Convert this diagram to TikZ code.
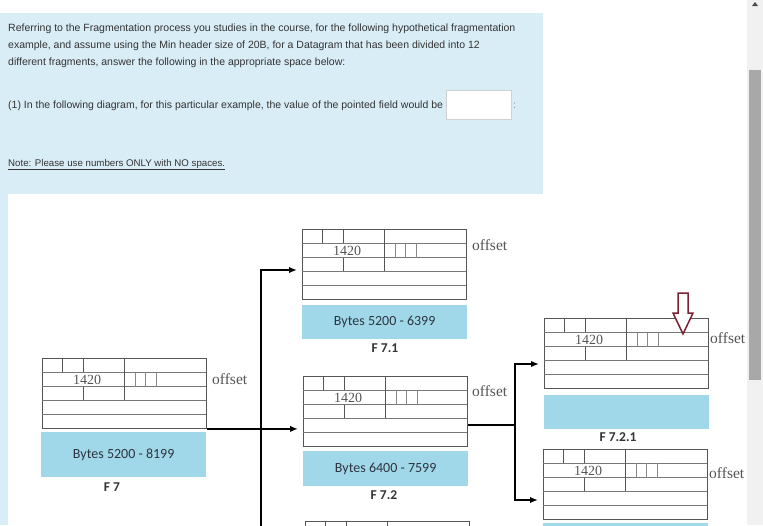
\documentclass[tikz,border=0pt]{standalone}
\usepackage{fontspec}
\newfontfamily\arialf{Liberation Sans}
\newfontfamily\timesf{Liberation Serif}
\newfontfamily\calf{Carlito}
\usetikzlibrary{arrows.meta,calc}
\definecolor{panel}{HTML}{D9EDF7}
\definecolor{payload}{HTML}{A0D8E9}
\definecolor{gridc}{HTML}{555555}
\definecolor{txt}{HTML}{333333}
\definecolor{navy}{HTML}{2E3440}
\definecolor{redarrow}{HTML}{7B2131}
\definecolor{track}{HTML}{F1F1F1}
\definecolor{thumb}{HTML}{A8A8A8}
\tikzset{
 hdr/.style={draw=gridc, line width=0.9pt, minimum width=164pt, minimum height=70pt, inner sep=0pt, anchor=north west},
 rowline/.style={draw=gridc!80, line width=0.8pt},
 colline/.style={draw=gridc, line width=0.8pt},
 tickline/.style={draw=gridc!70, line width=0.8pt},
 pay/.style={fill=payload, inner sep=0pt, anchor=north west, minimum width=165pt, font=\calf\fontsize{14}{16}\selectfont, text=navy},
 flabel/.style={font=\calf\bfseries\fontsize{13.5}{15}\selectfont, text=txt, inner sep=0pt},
 offs/.style={font=\timesf\fontsize{15.5}{17}\selectfont, text=gridc, anchor=west, inner sep=0pt},
 num/.style={font=\timesf\fontsize{14}{16}\selectfont, text=gridc, inner sep=0pt},
 conn/.style={draw=black, line width=1.6pt},
 tipend/.style={-{Latex[length=8pt,width=6.5pt]}, shorten >=5pt},
 tipboth/.style={{Latex[length=8pt,width=6.5pt]}-{Latex[length=8pt,width=6.5pt]}, shorten >=5pt, shorten <=5pt},
 qtext/.style={font=\arialf\fontsize{10.5}{12}\selectfont, text=txt, anchor=base west, inner sep=0pt},
}
\newcommand\fraghdr[4]{%
 \node[hdr] (#1) at (#2,#3) {};
 \begin{scope}[shift={(#2,#3)}]
  \foreach \yy in {14,28.5,42,56} \draw[rowline] (0,\yy) -- (164,\yy);
  \draw[colline] (20,0) -- (20,14) (41,0) -- (41,14) (82,0) -- (82,42) (41,28.5) -- (41,42);
  \draw[tickline] (93,14) -- (93,28.5) (103,14) -- (103,28.5) (114,14) -- (114,28.5);
  \node[num] (#1n) at (45,21.5) {#4};
 \end{scope}}
\begin{document}
\begin{tikzpicture}[x=1pt,y=-1pt]
\useasboundingbox (0,0) rectangle (763,525);
\clip (0,0) rectangle (763,525);
\fill[white] (0,0) rectangle (763,525);
% question panel
\fill[panel] (0,13) rectangle (543,194);
\fill[panel] (0,194) rectangle (8,525);
\node[qtext] (q1) at (8,31) {Referring to the Fragmentation process you studies in the course, for the following hypothetical fragmentation};
\node[qtext] (q2) at (8,48) {example, and assume using the Min header size of 20B, for a Datagram that has been divided into 12};
\node[qtext] (q3) at (8,65) {different fragments, answer the following in the appropriate space below:};
\node[qtext] (q4) at (8,108) {(1) In the following diagram, for this particular example, the value of the pointed field would be};
\node[draw=black!18, fill=white, line width=0.8pt, minimum width=65pt, minimum height=29pt, inner sep=0pt, anchor=north west] (ans) at (446,90) {};
\node[qtext, text=black!45] (colon) at (513,108) {:};
\node[qtext, font=\arialf\fontsize{9.7}{12}\selectfont] (note) at (8,166) {\underline{Note: Please use numbers ONLY with NO spaces.}};
% scrollbar
\fill[track] (747,0) rectangle (763,525);
\fill[thumb] (749,70) rectangle (761,380);
\fill[black!70] (752,6) -- (758,6) -- (755,2) -- cycle;
% F7
\fraghdr{f7}{42}{358}{1420}
\node[pay, minimum height=45pt] (f7p) at (41,432) {Bytes 5200 - 8199};
\node[flabel] (f7l) at (112,487) {F 7};
\node[offs] (f7o) at (212,379) {offset};
% F7.1
\fraghdr{f71}{302}{229}{1420}
\node[pay, minimum height=34pt] (f71p) at (302,305) {Bytes 5200 - 6399};
\node[flabel] (f71l) at (385,348) {F 7.1};
\node[offs] (f71o) at (472,245) {offset};
% F7.2
\fraghdr{f72}{303}{376}{1420}
\node[pay, minimum height=35pt] (f72p) at (303,451) {Bytes 6400 - 7599};
\node[flabel] (f72l) at (384,495) {F 7.2};
\node[offs] (f72o) at (472,391) {offset};
% F7.3 (partly visible)
\fraghdr{f73}{305}{521}{}
% F7.2.1
\fraghdr{f721}{544}{318}{1420}
\node[pay, minimum height=34pt] (f721p) at (544,395) {};
\node[flabel] (f721l) at (618,437) {F 7.2.1};
\node[offs] (f721o) at (710,338) {offset};
% F7.2.2
\fraghdr{f722}{543}{449}{1420}
\node[pay, minimum height=30pt] (f722p) at (543,523) {};
\node[offs] (f722o) at (709,473) {offset};
% connectors
\coordinate (j1top) at (261,270);
\coordinate (j1bot) at (261,530);
\draw[conn, tipend] (j1bot) -- (j1top) -- (j1top -| f71.west);
\draw[conn, tipend] (f7.south east) -- (f7.south east -| f72.west);
\coordinate (f72out) at ([yshift=-49pt]f72.north east);
\coordinate (j2top) at (515,364);
\coordinate (j2bot) at (515,500);
\draw[conn] (f72out) -- (f72out -| j2top);
\draw[conn, tipboth] (j2top -| f721.west) -- (j2top) -- (j2bot) -- (j2bot -| f722.west);
% pointer arrow
\filldraw[draw=redarrow, fill=white, line width=1.5pt, line join=miter] (678,293) -- (688,293) -- (688,313) -- (693,313) -- (683,334) -- (673,313) -- (678,313) -- cycle;
\end{tikzpicture}
\end{document}
